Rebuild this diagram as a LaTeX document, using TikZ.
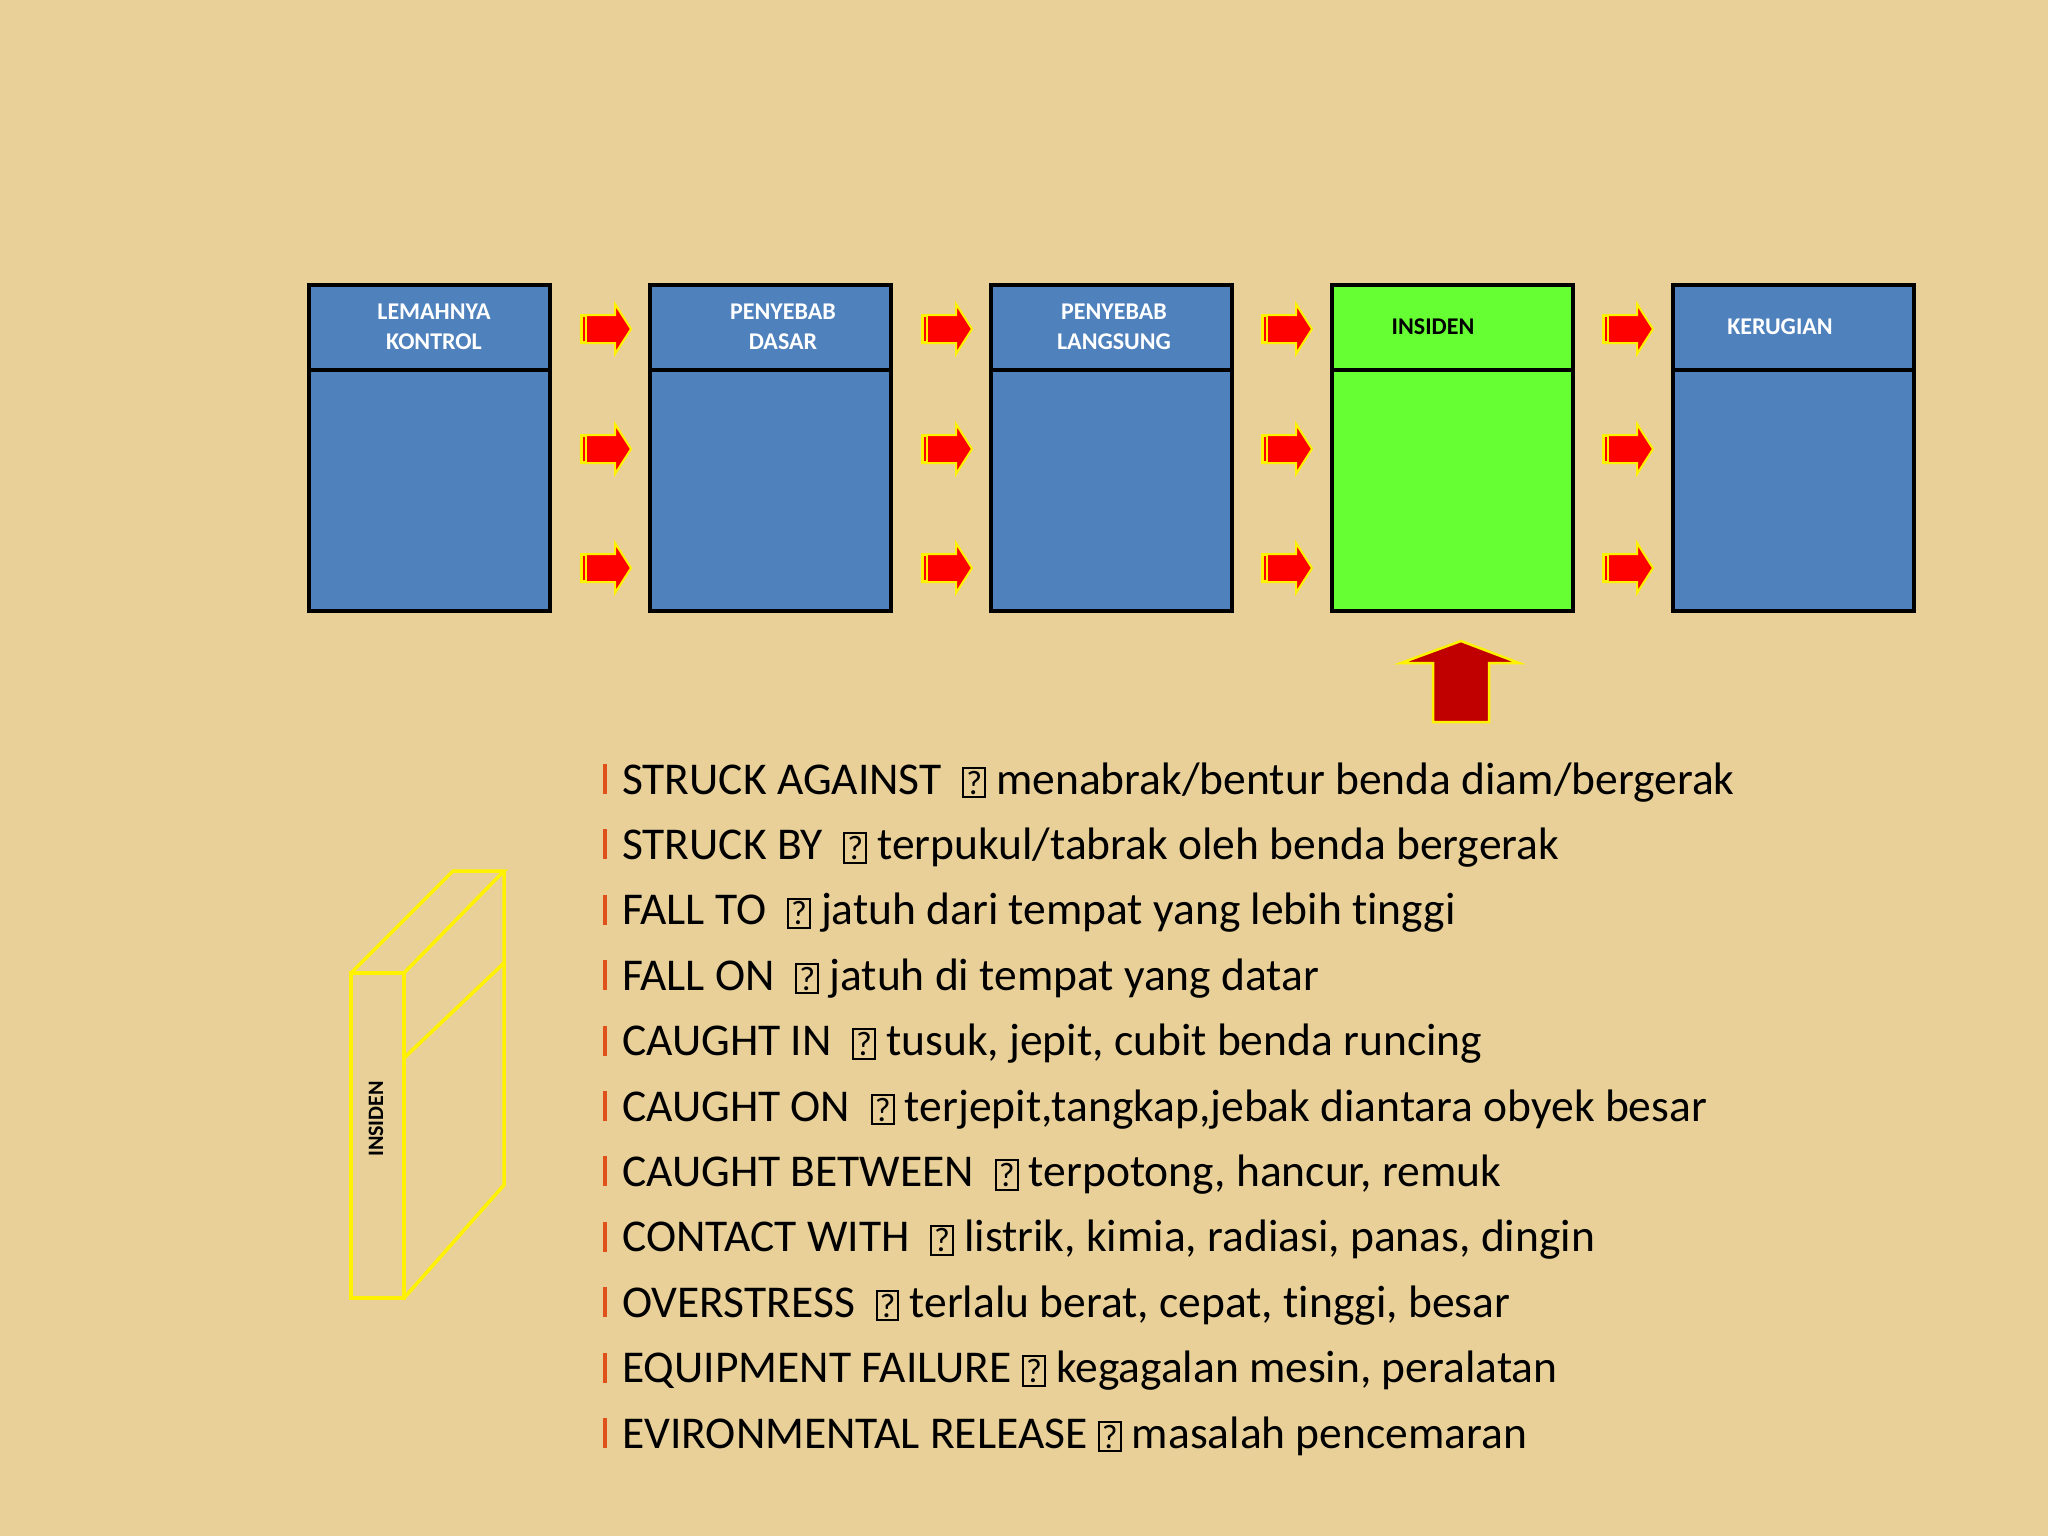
\documentclass[tikz,border=0pt]{standalone}
\usepackage{fontspec}
\setmainfont[Ligatures=NoCommon]{Carlito}
\usetikzlibrary{calc}
\definecolor{bg}{RGB}{232,208,152}
\definecolor{boxblue}{RGB}{79,129,189}
\definecolor{boxgreen}{RGB}{102,255,51}
\definecolor{darkred}{RGB}{192,0,0}
\definecolor{barred}{RGB}{224,80,26}
\newcommand{\qb}{{\setlength{\fboxsep}{2pt}\setlength{\fboxrule}{2pt}\fbox{\fontsize{34}{34}\selectfont ?}}}
\newcommand{\rarr}[2]{%
  \draw[yellow,line width=2pt,fill=red,line join=miter] (#1,#2-14) -- (#1+34,#2-14) -- (#1+34,#2-25) -- (#1+50,#2) -- (#1+34,#2+25) -- (#1+34,#2+14) -- (#1,#2+14) -- cycle;
  \fill[yellow] (#1,#2-14) rectangle (#1+6,#2+14);
  \draw[red,line width=1.2pt] (#1+3,#2-12) -- (#1+3,#2+12);}
\begin{document}
\begin{tikzpicture}[x=1pt,y=-1pt,
  hdr/.style={font=\fontsize{24}{30}\selectfont\bfseries,text=white,align=center},
  item/.style={anchor=base west,font=\fontsize{45.5}{50}\selectfont,inner sep=0pt}]
\useasboundingbox (0,0) rectangle (2048,1536);
\fill[bg] (0,0) rectangle (2048,1536);
% boxes
\foreach \x/\c [count=\i] in {307/boxblue,648/boxblue,989/boxblue,1330/boxgreen,1671/boxblue}{
  \node[draw=black,line width=3.5pt,fill=\c,minimum width=241pt,minimum height=326pt,inner sep=0pt,anchor=north west] (b\i) at (\x,283) {};
  \draw[black,line width=3.5pt] (\x,370) -- (\x+241,370);
}
\node[hdr] (h1) at (434,327) {LEMAHNYA\\KONTROL};
\node[hdr] (h2) at (783,327) {PENYEBAB\\DASAR};
\node[hdr] (h3) at (1114,327) {PENYEBAB\\LANGSUNG};
\node[hdr,text=black] (h4) at (1433,327) {INSIDEN};
\node[hdr] (h5) at (1780,327) {KERUGIAN};
% arrows
\foreach \x in {581,922,1262,1603}{
  \foreach \y in {329,449,568}{ \rarr{\x}{\y} }
}
% up arrow
\draw[yellow,line width=2.5pt,fill=darkred,line join=miter] (1433,722) -- (1433,663) -- (1401,663) -- (1461,641) -- (1519,663) -- (1489,663) -- (1489,722) -- cycle;
% 3D box
\begin{scope}[yellow,line width=3.5pt]
\draw (351,973) rectangle (404,1298);
\draw (351,973) -- (453,871) -- (504,871) -- (404,973);
\draw (504,871) -- (504,1185) -- (404,1298);
\draw (404,1058) -- (504,963);
\end{scope}
\node[rotate=90,font=\fontsize{22}{22}\selectfont\bfseries] (ins) at (376,1119) {INSIDEN};
% list
\foreach \t [count=\i] in {
 {STRUCK AGAINST \ \qb\ menabrak/bentur benda diam/bergerak},
 {STRUCK BY \ \qb\ terpukul/tabrak oleh benda bergerak},
 {FALL TO \ \qb\ jatuh dari tempat yang lebih tinggi},
 {FALL ON \ \qb\ jatuh di tempat yang datar},
 {CAUGHT IN \ \qb\ tusuk, jepit, cubit benda runcing},
 {CAUGHT ON \ \qb\ terjepit,tangkap,jebak diantara obyek besar},
 {CAUGHT BETWEEN \ \qb\ terpotong, hancur, remuk},
 {CONTACT WITH \ \qb\ listrik, kimia, radiasi, panas, dingin},
 {OVERSTRESS \ \qb\ terlalu berat, cepat, tinggi, besar},
 {EQUIPMENT FAILURE \qb\ kegagalan mesin, peralatan},
 {EVIRONMENTAL RELEASE \qb\ masalah pencemaran}}{
  \fill[barred] (603,{794+65.4*(\i-1)-30}) rectangle (607,{794+65.4*(\i-1)});
  \node[item] (t\i) at (622,{794+65.4*(\i-1)}) {\t};
}
\end{tikzpicture}
\end{document}
